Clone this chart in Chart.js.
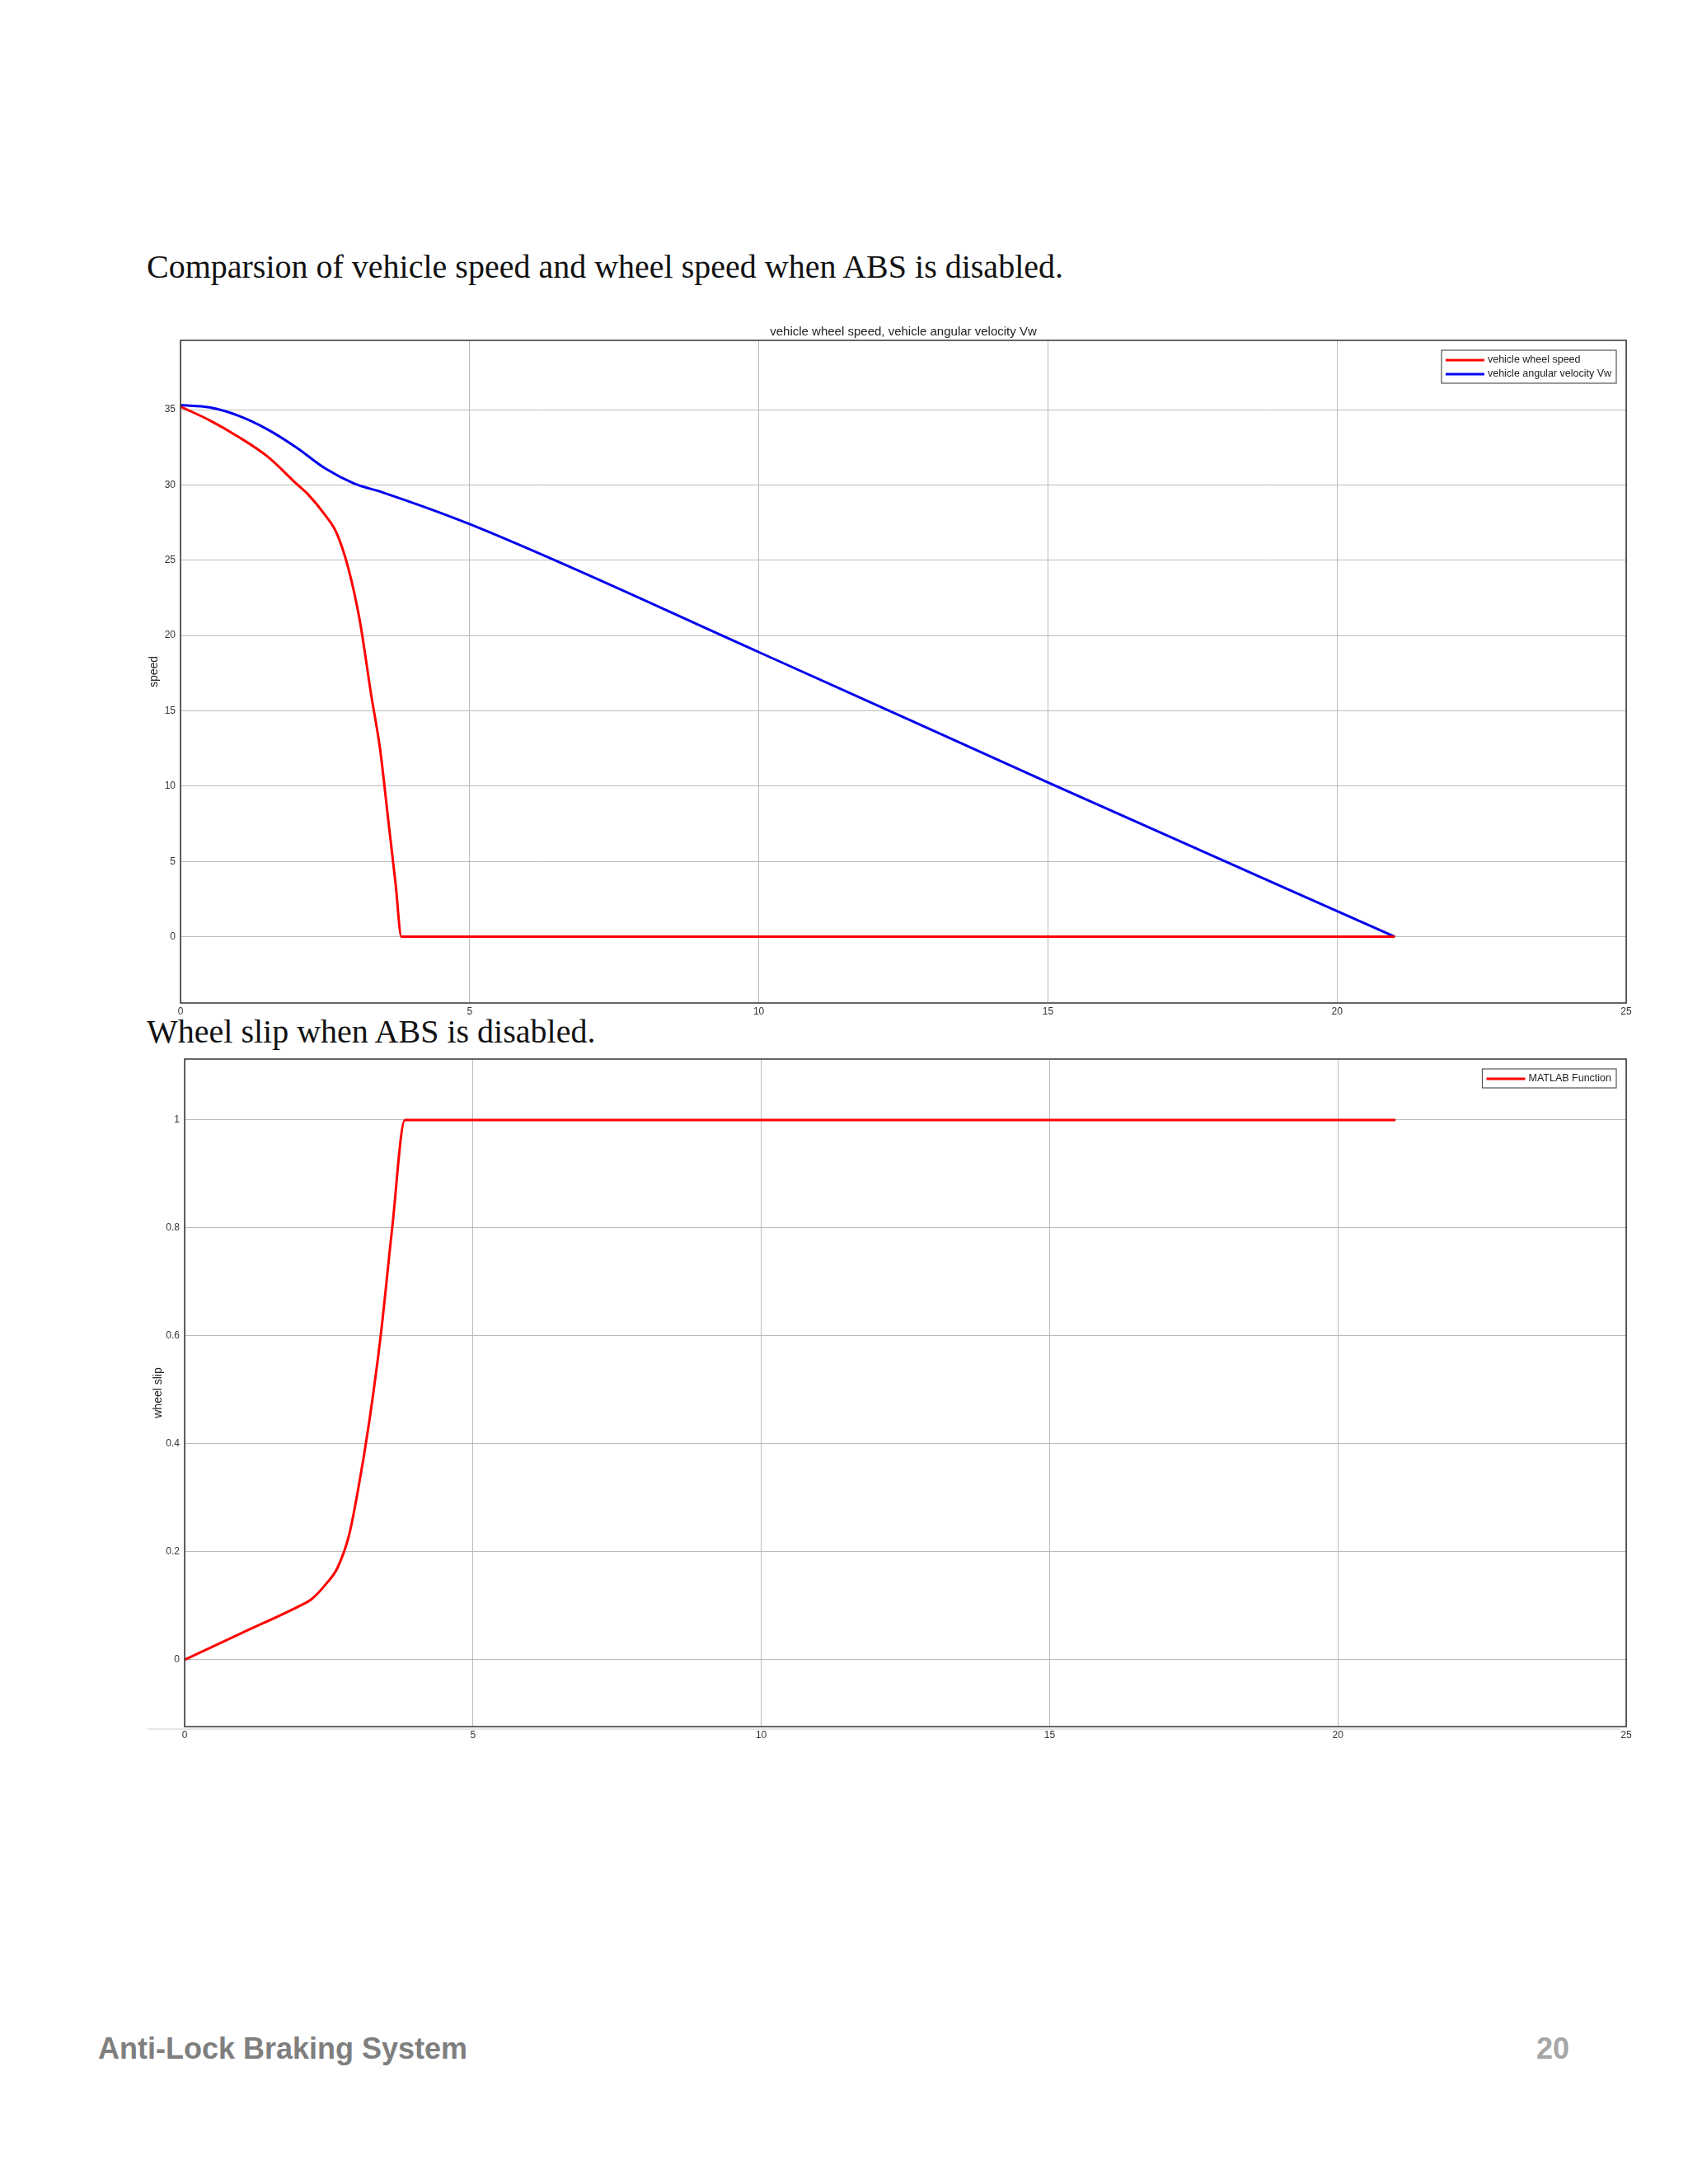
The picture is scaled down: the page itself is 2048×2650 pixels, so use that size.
<!DOCTYPE html>
<html><head><meta charset="utf-8">
<script src="https://cdn.jsdelivr.net/npm/chart.js@4"></script>
<style>
body{margin:0;background:#fff;width:2048px;height:2650px;position:relative}
.h{position:absolute;font-family:"Liberation Serif",serif;font-size:40px;color:#111;white-space:nowrap}
.c{position:absolute}
</style></head><body>
<div class="h" style="left:178px;top:300px">Comparsion of vehicle speed and wheel speed when ABS is disabled.</div>
<div class="h" style="left:178px;top:1228px">Wheel slip when ABS is disabled.</div>
<div style="position:absolute;left:179px;top:2097px;width:1787px;height:2px;background:#e6e6e6"></div>
<div style="position:absolute;left:119px;top:2465px;font:bold 36px 'Liberation Sans',sans-serif;color:#7f7f7f">Anti-Lock Braking System</div>
<div style="position:absolute;left:1864px;top:2465px;font:bold 36px 'Liberation Sans',sans-serif;color:#a6a6a6">20</div>
<div class="c" style="left:179px;top:385px;width:1817px;height:862px"><canvas id="c1"></canvas></div>
<div class="c" style="left:184px;top:1263px;width:1817px;height:862px"><canvas id="c2"></canvas></div>
<script>
const wheelT=[0,0.5,1,1.5,2,2.2,2.5,2.7,2.9,3.1,3.3,3.45,3.6,3.72,3.82,21];
const wheelV=[35.2,34.3,33.2,31.9,30.1,29.4,28.0,26.8,24.5,21,16,12.5,7.5,3.5,0,0];
const vehT=[0,0.5,1,1.5,2,2.5,3,3.5,5,10,15,21];
const vehV=[35.3,35.15,34.6,33.7,32.5,31.1,30.1,29.5,27.4,18.9,10.25,0];
const slipT=[0,1,2,2.2,2.45,2.65,2.85,3.0,3.2,3.4,3.6,3.82,21];
const slipV=[0,0.05,0.1,0.112,0.14,0.17,0.23,0.31,0.44,0.6,0.8,1,1];
const xTicks=[0,5,10,15,20,25];
const pts=(t,v)=>t.map((x,i)=>({x,y:v[i]}));
const F="'Liberation Sans',Arial,sans-serif";
const deco={id:'deco',afterDraw(ch,a,o){
  const g=ch.ctx,ca=ch.chartArea;g.save();
  g.strokeStyle='#333';g.lineWidth=1.5;g.strokeRect(ca.left,ca.top,ca.right-ca.left,ca.bottom-ca.top);
  if(o.title){g.fillStyle='#222';g.font='15px '+F;g.textAlign='center';g.fillText(o.title,(ca.left+ca.right)/2,ca.top-6);}
  const ds=ch.data.datasets;g.font='12.5px '+F;
  let w=0;ds.forEach(d=>w=Math.max(w,g.measureText(d.label).width));
  const bw=w+62,bh=ds.length*17+6,bx=ca.right-12-bw,by=ca.top+12;
  g.fillStyle='#fff';g.fillRect(bx,by,bw,bh);g.strokeStyle='#555';g.lineWidth=1.2;g.strokeRect(bx,by,bw,bh);
  ds.forEach((d,i)=>{const y=by+12+i*17;g.strokeStyle=d.borderColor;g.lineWidth=3;g.beginPath();g.moveTo(bx+5,y);g.lineTo(bx+52,y);g.stroke();
    g.fillStyle='#222';g.textAlign='left';g.textBaseline='middle';g.fillText(d.label,bx+56,y);});
  g.restore();}};
function mk(id,datasets,ymin,ymax,ystep,ytitle,pad,title){
  new Chart(document.getElementById(id),{type:'scatter',data:{datasets},
  options:{responsive:true,maintainAspectRatio:false,animation:false,
   layout:{padding:pad},
   plugins:{legend:{display:false},tooltip:{enabled:false},deco:{title}},
   elements:{point:{radius:0},line:{cubicInterpolationMode:'monotone',borderWidth:3}},
   scales:{
    x:{type:'linear',min:0,max:25,afterFit:s=>{s.height=30},afterBuildTicks:s=>{s.ticks=xTicks.map(v=>({value:v}))},
      ticks:{color:'#333',font:{size:12,family:F},maxRotation:0},grid:{color:'#bbb',drawTicks:false},border:{display:false}},
    y:{min:ymin,max:ymax,afterFit:s=>{s.width=40},ticks:{stepSize:ystep,includeBounds:false,color:'#333',font:{size:12,family:F},padding:6,
        callback:v=>String(Math.round(v*10)/10)},
      grid:{color:'#bbb',drawTicks:false},border:{display:false},
      title:{display:true,text:ytitle,color:'#222',font:{size:14,family:F},padding:0}}}},
  plugins:[deco]});
}
mk('c1',[{label:'vehicle wheel speed',data:pts(wheelT,wheelV),borderColor:'#ff0000',showLine:true},
 {label:'vehicle angular velocity Vw',data:pts(vehT,vehV),borderColor:'#0000ee',showLine:true}],
 -4.4,39.6,5,'speed',{top:28,right:23,left:0,bottom:0},'vehicle wheel speed, vehicle angular velocity Vw');
mk('c2',[{label:'MATLAB Function',data:pts(slipT,slipV),borderColor:'#ff0000',showLine:true}],
 -0.124,1.113,0.2,'wheel slip',{top:22,right:28,left:0,bottom:0},null);
</script></body></html>
